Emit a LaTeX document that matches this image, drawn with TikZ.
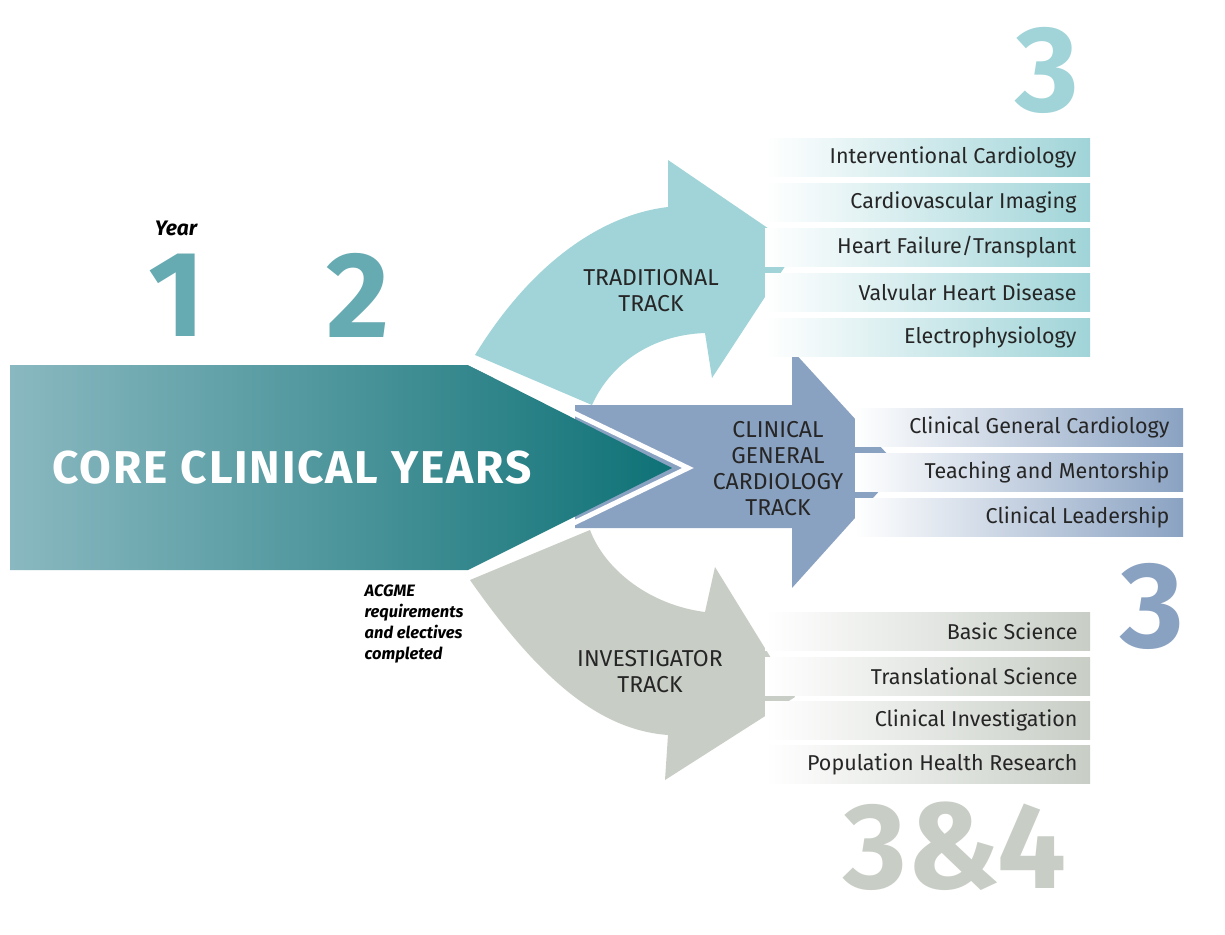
\documentclass[tikz,border=0pt]{standalone}
\usepackage{fontspec}
\setmainfont{Fira Sans}
\definecolor{trad}{HTML}{A0D4D8}
\definecolor{clin}{HTML}{8AA2C2}
\definecolor{inv}{HTML}{C8CEC6}
\definecolor{tealnum}{HTML}{66AAB2}
\definecolor{coreL}{HTML}{8AB8C0}
\definecolor{coreR}{HTML}{0E7276}
\tikzset{
 lab/.style={font=\fontsize{21.5}{21}\selectfont,anchor=east,text=black!85},
 trk/.style={font=\fontsize{23}{26}\selectfont,align=center,text=black!85},
 bignum/.style={font=\fontsize{122}{122}\selectfont\bfseries}
}
\begin{document}
\begin{tikzpicture}[x=1pt,y=-1pt]
\useasboundingbox[fill=white] (0,0) rectangle (1225,934);
% curved arrows
\fill[trad] (475,355) .. controls (530,265) and (600,215) .. (668,207) -- (668,160) -- (797,248) -- (712,378) -- (705,333) .. controls (650,335) and (610,365) .. (592,405) -- cycle;
\fill[inv] (470,580) .. controls (540,680) and (600,730) .. (668,735) -- (665,780) -- (795,697) -- (715,567) -- (705,612) .. controls (650,605) and (605,570) .. (590,530) -- cycle;
\fill[clin] (575,405) -- (792,405) -- (792,350) -- (900,468) -- (792,588) -- (792,528) -- (575,528) -- cycle;
% core
\shade[left color=coreL,right color=coreR] (10,365) -- (468,365) -- (672,468) -- (468,570) -- (10,570) -- cycle;
\draw[white,line width=5pt] (468,362) -- (688,468) -- (468,574);
\node[font=\fontsize{46}{46}\selectfont\bfseries,text=white] (core) at (292,468) {\addfontfeature{LetterSpace=4}CORE CLINICAL YEARS};
% track labels
\node[trk] (tt) at (651,291) {TRADITIONAL\\TRACK};
\node[trk] (ct) at (778,469) {CLINICAL\\GENERAL\\CARDIOLOGY\\TRACK};
\node[trk] (it) at (650,672) {INVESTIGATOR\\TRACK};
% boxes
\foreach \y/\t [count=\i] in {138/{Interventional Cardiology},183/{Cardiovascular Imaging},228/{Heart Failure/Transplant},273/{Valvular Heart Disease},318/{Electrophysiology}}{
 \shade[left color=white,right color=trad] (765,\y) rectangle (1090,\y+38);
 \node[lab] (t\i) at (1080,\y+19) {\t};}
\foreach \y/\t [count=\i] in {408/{Clinical General Cardiology},453/{Teaching and Mentorship},498/{Clinical Leadership}}{
 \shade[left color=white,right color=clin] (855,\y) rectangle (1183,\y+38);
 \node[lab] (c\i) at (1173,\y+19) {\t};}
\foreach \y/\t [count=\i] in {612/{Basic Science},657/{Translational Science},701/{Clinical Investigation},745/{Population Health Research}}{
 \shade[left color=white,right color=inv] (765,\y) rectangle (1090,\y+38);
 \node[lab] (v\i) at (1081,\y+19) {\t};}
% numbers
\node[bignum,text=trad] (n3a) at (1047,70) {3};
\node[bignum,text=clin] (n3b) at (1152,606) {3};
\node[bignum,text=inv] (n34) at (955,846) {3\&4};
\node[bignum,text=tealnum] (n1) at (177,295) {1};
\node[bignum,text=tealnum] (n2) at (358,295) {2};
\node[font=\fontsize{21}{21}\selectfont\bfseries\itshape] (yr) at (176,228) {Year};
\node[font=\fontsize{16.5}{21}\selectfont\bfseries\itshape,align=left] (ac) at (414,624) {ACGME\\requirements\\and electives\\completed};
\end{tikzpicture}
\end{document}
